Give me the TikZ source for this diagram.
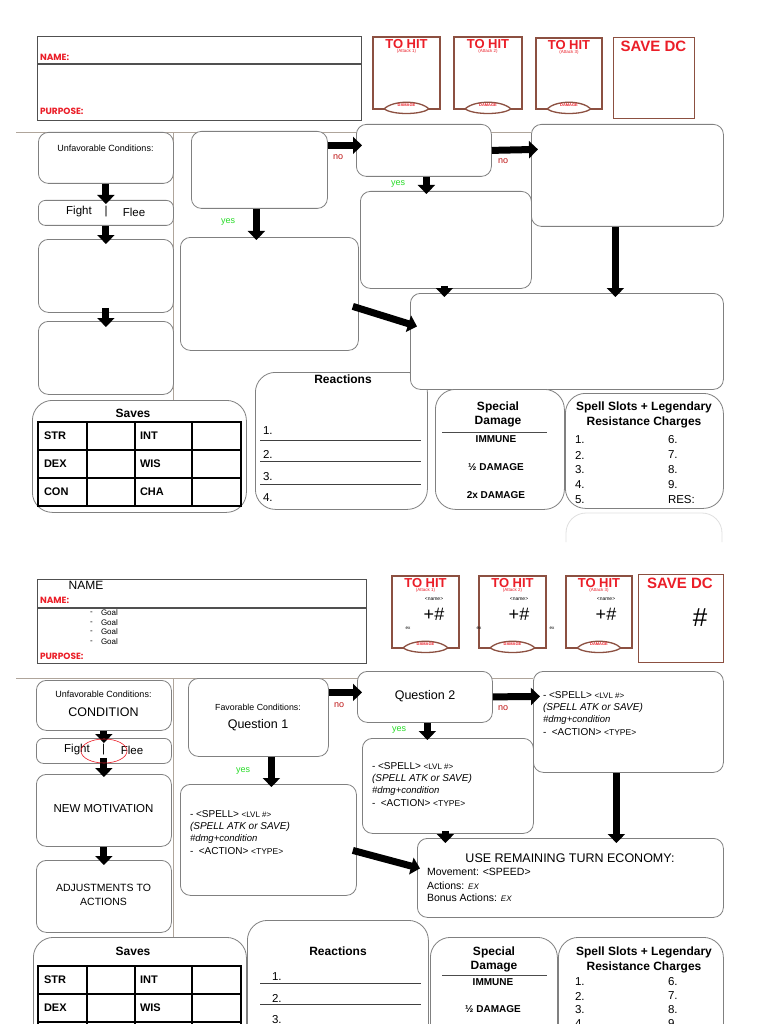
\documentclass[tikz,border=0pt]{standalone}
\usepackage{fontspec}
\setmainfont{Liberation Sans}
\newfontfamily\popfont{Poppins}
\usetikzlibrary{arrows.meta}
\definecolor{bordergray}{RGB}{128,128,128}
\definecolor{hitbrown}{RGB}{140,80,65}
\definecolor{hitred}{RGB}{235,30,40}
\definecolor{yesgreen}{RGB}{40,220,40}
\definecolor{nored}{RGB}{190,20,20}
\definecolor{sepgray}{RGB}{175,165,155}
\definecolor{namegray}{RGB}{80,80,80}
\newcommand\myfs[1]{\fontsize{#1}{#1}\selectfont}
\newcommand\bx[6][box]{\node[#1,anchor=north west,minimum width=#5pt,minimum height=#6pt] (#2) at (#3,#4) {};}
% #1 name, #2 x1, #3 x2, #4 ytop, #5 ybottom, #6 attack number
\newcommand\tohit[6]{%
  \draw[hit] (#2+11,#5) -- (#2,#5) -- (#2,#4) -- (#3,#4) -- (#3,#5) -- (#3-11,#5);
  \draw[hit] (#2+11,#5) .. controls (#2+20,#5-9) and (#3-20,#5-9) .. (#3-11,#5) .. controls (#3-20,#5+6) and (#2+20,#5+6) .. cycle;
  \node[txt,text=hitred,font=\bfseries\myfs{13}] (#1t) at ({(#2+#3)/2},#4+7) {TO HIT};
  \node[txt,text=hitred,font=\myfs{4.5}] (#1a) at ({(#2+#3)/2},#4+14.8) {(Attack #6)};
  \node[txt,text=hitred,font=\bfseries\myfs{4}] (#1d) at ({(#2+#3)/2},#5-4) {DAMAGE};
}
\newcommand\spelltxt[3]{%
  \node[txt,anchor=west,font=\myfs{10}] (#1a) at (#2,#3) {- <SPELL> {\myfs{8}<LVL \#>}};
  \node[txt,anchor=west,font=\itshape\myfs{10}] (#1b) at (#2,#3+12.5) {(SPELL ATK or SAVE)};
  \node[txt,anchor=west,font=\itshape\myfs{9.5}] (#1c) at (#2,#3+25) {\#dmg+condition};
  \node[txt,anchor=west,font=\myfs{10}] (#1d) at (#2,#3+37.5) {-\ \ <ACTION> {\myfs{8.5}<TYPE>}};
}
\newcommand\savestbl[2]{%
  \draw[tbl] (38,#2) rectangle (241,#2+84);
  \draw[tbl] (87,#2) -- (87,#2+84);
  \draw[tbl] (135,#2) -- (135,#2+84);
  \draw[tbl] (192,#2) -- (192,#2+84);
  \draw[tbl] (38,#2+28) -- (241,#2+28);
  \draw[tbl] (38,#2+56) -- (241,#2+56);
  \node[cell] (#1a) at (44,#2+14) {STR};
  \node[cell] (#1b) at (140,#2+14) {INT};
  \node[cell] (#1c) at (44,#2+42) {DEX};
  \node[cell] (#1d) at (140,#2+42) {WIS};
  \node[cell] (#1e) at (44,#2+70) {CON};
  \node[cell] (#1f) at (140,#2+70) {CHA};
}
\newcommand\slots[3]{%
  \foreach \i in {1,...,5} {\node[num] (#1l\i) at (575,{#2+(\i-1)*#3}) {\i.};}
  \foreach \lab [count=\i] in {6.,7.,8.,9.,RES:} {\node[num] (#1r\i) at (668,{#2+(\i-1)*#3}) {\lab};}
}
\begin{document}
\begin{tikzpicture}[x=1pt,y=-1pt,
  box/.style={draw=bordergray,line width=0.8pt,rounded corners=10pt,fill=white,inner sep=0pt},
  bigbox/.style={box,rounded corners=20pt},
  ffbox/.style={box,rounded corners=7pt},
  hit/.style={draw=hitbrown,line width=1.3pt},
  hitbox/.style={draw=hitbrown,line width=1.3pt,inner sep=0pt,fill=white},
  namebox/.style={draw=namegray,line width=1.1pt,inner sep=0pt},
  sepline/.style={draw=sepgray,line width=1pt},
  arr/.style={line width=7pt,-{Triangle[width=17pt,length=9pt]}},
  txt/.style={inner sep=0pt,outer sep=0pt},
  redlab/.style={txt,anchor=west,text=hitred,font=\popfont\bfseries\myfs{9}},
  title/.style={txt,font=\bfseries\myfs{12}},
  cell/.style={txt,anchor=west,font=\bfseries\myfs{11}},
  num/.style={txt,anchor=west,font=\myfs{11.5}},
  dmg/.style={txt,font=\bfseries\myfs{10}},
  yeslab/.style={txt,text=yesgreen,font=\myfs{9}},
  nolab/.style={txt,text=nored,font=\myfs{9}},
  rline/.style={draw=black!75,line width=0.7pt},
  tbl/.style={draw=black,line width=1.1pt},
]
\useasboundingbox (0,0) rectangle (768,1024);
\clip (0,0) rectangle (768,1024);
\fill[white] (0,0) rectangle (768,1024);

%================ TOP HALF ================
\draw[sepline] (16,133) -- (531,133);
\draw[sepline] (173,133) -- (173,400);

\bx[namebox]{nm1}{37}{36}{324}{84}
\draw[namebox] (37,64) -- (361,64);
\node[redlab] (nm1a) at (40,57) {NAME:};
\node[redlab] (nm1b) at (40,111) {PURPOSE:};

\tohit{ha}{373}{440}{37}{109}{1}
\tohit{hb}{454}{522}{37}{109}{2}
\tohit{hc}{536}{602}{38}{109}{3}
\bx[hitbox]{sdc1}{613}{37}{81}{81}
\node[txt,text=hitred,font=\bfseries\myfs{15}] (sdc1t) at (653.5,46) {SAVE DC};

% left column
\bx{unf1}{38}{132}{135}{51}
\node[txt,font=\myfs{9}] (unf1t) at (105.5,148) {Unfavorable Conditions:};
\bx[ffbox]{ff1}{38}{200}{135}{25}
\node[txt,font=\myfs{11.5}] (ff1a) at (79,212) {Fight};
\node[txt,font=\myfs{11.5}] (ff1b) at (106,212) {|};
\node[txt,font=\myfs{11.5}] (ff1c) at (134,212) {Flee};
\bx{lb3}{38}{239}{135}{73}
\bx{lb4}{38}{321}{135}{73}

% middle / right
\bx{q1}{191}{131}{136}{77}
\bx{ml1}{180}{237}{178}{113}
\bx{q2}{356}{124}{135}{52}
\bx{m21}{360}{191}{171}{97}
\bx{r1}{531}{124}{192}{102}
\bx[bigbox]{re1}{255}{372}{172}{137}
\bx{b1}{410}{293}{313}{96}
\node[nolab] (no1) at (338,157) {no};
\node[yeslab] (yes1) at (228,222) {yes};
\node[nolab] (no2) at (503,161) {no};
\node[yeslab] (yes2) at (398,184) {yes};

% reactions
\node[title] (re1t) at (343,379) {Reactions};
\draw[rline] (260,440) -- (421,440);
\draw[rline] (260,461) -- (421,461);
\draw[rline] (260,484) -- (421,484);
\node[num] (re1a) at (263,431) {1.};
\node[num] (re1b) at (263,454) {2.};
\node[num] (re1c) at (263,477) {3.};
\node[num] (re1d) at (263,498) {4.};

% saves
\bx[bigbox]{sv1}{32}{400}{214}{112}
\node[title] (sv1t) at (133,413) {Saves};
\savestbl{sv1c}{422}

% special damage
\bx[bigbox]{sd1}{435}{389}{129}{120}
\node[title] (sd1a) at (498,407) {Special};
\node[title] (sd1b) at (498,422) {Damage};
\draw[draw=black!70,line width=0.8pt] (442,432) -- (547,432);
\node[dmg] (sd1c) at (496,439) {IMMUNE};
\node[dmg] (sd1d) at (496,467) {½ DAMAGE};
\node[dmg] (sd1e) at (496,495) {2x DAMAGE};

% spell slots
\bx[bigbox]{ss1}{565}{393}{158}{115}
\node[title] (ss1a) at (644,407) {Spell Slots + Legendary};
\node[title] (ss1b) at (644,422) {Resistance Charges};
\slots{ss1n}{440}{15}
\draw[draw=black!12,line width=0.8pt,rounded corners=20pt] (566,542) -- (566,513) -- (722,513) -- (722,542);

% arrows top
\draw[arr] (unf1.south) -- ([yshift=-4pt]ff1.north);
\draw[arr] (ff1.south) -- ([yshift=-5pt]lb3.north);
\draw[arr] ([yshift=5pt]lb3.south) -- ([yshift=-6pt]lb4.north);
\draw[arr] ([yshift=24.5pt]q1.east) -- ([xshift=6pt,yshift=5pt]q2.west);
\draw[arr] (q2.east) -- ([xshift=7pt,yshift=26pt]r1.west);
\draw[arr] ([xshift=-3pt]q1.south) -- ([xshift=-13pt,yshift=-3pt]ml1.north);
\draw[arr] ([xshift=2.5pt]q2.south) -- ([xshift=-19.5pt,yshift=-3pt]m21.north);
\draw[arr] ([xshift=-1.5pt,yshift=3pt]m21.south) -- ([xshift=-122.5pt,yshift=-4pt]b1.north);
\draw[arr] ([xshift=-12pt]r1.south) -- ([xshift=48.5pt,yshift=-4pt]b1.north);
\draw[arr] ([xshift=-6pt,yshift=-12.5pt]ml1.east) -- ([xshift=7pt,yshift=15pt]b1.west);

%================ BOTTOM HALF ================
\draw[sepline] (16,678) -- (533,678);
\draw[sepline] (173,678) -- (173,937);

\bx[namebox]{nm2}{37}{579}{329}{84}
\draw[namebox] (37,608) -- (366,608);
\node[txt,font=\myfs{12}] (nm2n) at (86,585) {NAME};
\node[redlab] (nm2a) at (40,600) {NAME:};
\foreach \i/\y in {1/613,2/623,3/632,4/642} {
  \node[txt,anchor=west,font=\myfs{8}] (gd\i) at (90,\y) {-};
  \node[txt,anchor=west,font=\myfs{8}] (g\i) at (101,\y) {Goal};
}
\node[redlab] (nm2b) at (40,656) {PURPOSE:};

\tohit{hd}{392}{459}{576}{648}{1}
\tohit{he}{479}{546}{576}{648}{2}
\tohit{hf}{566}{632}{576}{648}{3}
\bx[hitbox]{sdc2}{638}{574}{85}{88}
\node[txt,text=hitred,font=\bfseries\myfs{15}] (sdc2t) at (680,583) {SAVE DC};
\node[txt,font=\myfs{26}] (sdc2h) at (700,618) {\#};
\foreach \n/\x in {1/434,2/519,3/606} {
  \node[txt,font=\myfs{5}] (nmx\n) at (\x,599.5) {<name>};
  \node[txt,font=\myfs{18}] (pl\n) at (\x,614) {+\#};
}
\foreach \n/\x in {1/408,2/479,3/552} {
  \node[txt,font=\myfs{4.5}] (ex\n) at (\x,628) {ex};
}

% left column
\bx{unf2}{36}{680}{135}{50}
\node[txt,font=\myfs{9}] (unf2t) at (103.5,694) {Unfavorable Conditions:};
\node[txt,font=\myfs{12.5}] (unf2c) at (103.5,712) {CONDITION};
\bx[ffbox]{ff2}{36}{738}{135}{25}
\node[txt,font=\myfs{11.5}] (ff2a) at (77,750) {Fight};
\node[txt,font=\myfs{11.5}] (ff2b) at (103.5,750) {|};
\node[txt,font=\myfs{11.5}] (ff2c) at (132,750) {Flee};
\bx{nmv}{36}{774}{135}{72}
\node[txt,font=\myfs{11.5}] (nmvt) at (103.5,809) {NEW MOTIVATION};
\bx{adj}{36}{860}{135}{72}
\node[txt,font=\myfs{10.5}] (adja) at (103.5,888) {ADJUSTMENTS TO};
\node[txt,font=\myfs{10.5}] (adjb) at (103.5,902) {ACTIONS};

% middle / right
\bx{q1b}{188}{678}{140}{78}
\node[txt,font=\myfs{8.8}] (q1ba) at (258,707) {Favorable Conditions:};
\node[txt,font=\myfs{12.5}] (q1bb) at (258,725) {Question 1};
\bx{ml2}{180}{784}{176}{111}
\spelltxt{ml2s}{190}{814}
\bx{q2b}{357}{671}{135}{51}
\node[txt,font=\myfs{12.5}] (q2bt) at (425,696) {Question 2};
\bx{m2b}{362}{738}{171}{95}
\spelltxt{m2bs}{372}{766}
\bx{r2}{533}{671}{190}{101}
\spelltxt{r2s}{543}{695}
\bx{b2}{417}{838}{306}{79}
\node[txt,font=\myfs{12.5}] (b2a) at (570,858) {USE REMAINING TURN ECONOMY:};
\node[txt,anchor=west,font=\myfs{10.5}] (b2b) at (427,872) {Movement: <SPEED>};
\node[txt,anchor=west,font=\myfs{10.5}] (b2c) at (427,886) {Actions: {\itshape\myfs{8}EX}};
\node[txt,anchor=west,font=\myfs{10.5}] (b2d) at (427,898) {Bonus Actions: {\itshape\myfs{8}EX}};
\node[nolab] (no3) at (339,705) {no};
\node[yeslab] (yes3) at (243,771) {yes};
\node[nolab] (no4) at (503,708) {no};
\node[yeslab] (yes4) at (399,730) {yes};

% bottom row
\bx[bigbox]{sv2}{33}{937}{213}{130}
\node[title] (sv2t) at (133,951) {Saves};
\savestbl{sv2c}{966}
\bx[bigbox]{re2}{247}{920}{181}{140}
\node[title] (re2t) at (338,951) {Reactions};
\draw[rline] (260,983) -- (421,983);
\draw[rline] (260,1004) -- (421,1004);
\draw[rline] (260,1026) -- (421,1026);
\node[num] (re2a) at (272,977) {1.};
\node[num] (re2b) at (272,998) {2.};
\node[num] (re2c) at (272,1020) {3.};
\bx[bigbox]{sd2}{430}{937}{127}{130}
\node[title] (sd2a) at (494,952) {Special};
\node[title] (sd2b) at (494,967) {Damage};
\draw[draw=black!70,line width=0.8pt] (442,975) -- (547,975);
\node[dmg] (sd2c) at (493,982) {IMMUNE};
\node[dmg] (sd2d) at (493,1009) {½ DAMAGE};
\bx[bigbox]{ss2}{558}{937}{165}{130}
\node[title] (ss2a) at (644,952) {Spell Slots + Legendary};
\node[title] (ss2b) at (644,967) {Resistance Charges};
\slots{ss2n}{982}{14}

% arrows bottom
\draw[arr] (unf2.south) -- ([yshift=-5pt]ff2.north);
\draw[arr] ([yshift=6pt]ff2.south) -- ([yshift=-3pt]nmv.north);
\draw[arr] (nmv.south) -- ([yshift=-5pt]adj.north);
\draw[hitred,line width=0.6pt] (104,751) ellipse [x radius=23pt, y radius=12pt];
\draw[arr] ([yshift=25pt]q1b.east) -- ([xshift=5pt,yshift=4.5pt]q2b.west);
\draw[arr] (q2b.east) -- ([xshift=7pt,yshift=25.5pt]r2.west);
\draw[arr] ([xshift=13pt]q1b.south) -- ([xshift=3pt,yshift=-3pt]ml2.north);
\draw[arr] ([xshift=2.5pt]q2b.south) -- ([xshift=-20.5pt,yshift=-2pt]m2b.north);
\draw[arr] ([xshift=-2.5pt,yshift=3pt]m2b.south) -- ([xshift=-125pt,yshift=-5pt]b2.north);
\draw[arr] ([xshift=-12pt]r2.south) -- ([xshift=46pt,yshift=-5pt]b2.north);
\draw[arr] ([xshift=-4pt,yshift=-10.5pt]ml2.east) -- ([xshift=3pt,yshift=9.5pt]b2.west);
\end{tikzpicture}
\end{document}
